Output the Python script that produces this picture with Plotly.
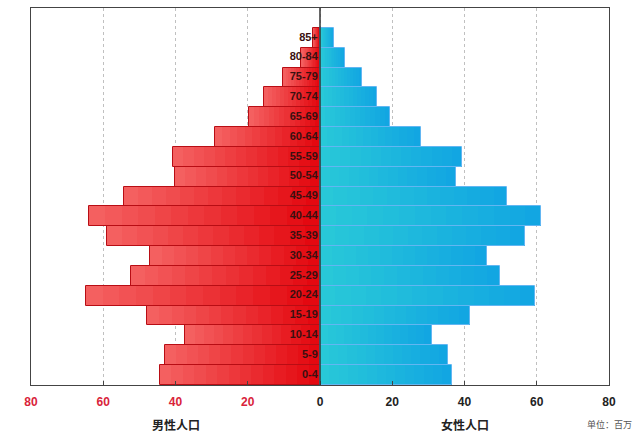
import plotly.graph_objects as go

age_groups = ["0-4", "5-9", "10-14", "15-19", "20-24", "25-29", "30-34", "35-39",
              "40-44", "45-49", "50-54", "55-59", "60-64", "65-69", "70-74",
              "75-79", "80-84", "85+"]
male = [44.3, 42.9, 37.4, 47.9, 64.8, 52.3, 47.1, 59.0, 64.0, 54.3, 40.1, 40.7,
        29.1, 19.7, 15.5, 10.2, 5.2, 2.0]
female = [36.5, 35.4, 31.0, 41.5, 59.5, 49.8, 46.2, 56.7, 61.2, 51.8, 37.6, 39.3,
          28.0, 19.4, 15.8, 11.6, 6.9, 3.9]
tick_vals = [-80, -60, -40, -20, 0, 20, 40, 60, 80]
tick_labels = ["80", "60", "40", "20", "0", "20", "40", "60", "80"]
tick_text = ['<b><span style="color:#d9233a">%s</span></b>' % t if v < 0 else "<b>%s</b>" % t
             for v, t in zip(tick_vals, tick_labels)]

def lerp(c1, c2, t):
    return "rgb(%d,%d,%d)" % tuple(round(a + (b - a) * t) for a, b in zip(c1, c2))

fig = go.Figure()
steps = 14
red_light, red_dark = (244, 96, 96), (228, 8, 16)
blue_end, blue_center = (18, 166, 226), (40, 200, 216)
for i in range(steps):
    f = 1 - i / steps
    t = i / (steps - 1)
    fig.add_trace(go.Bar(y=age_groups, x=[-v * f for v in male], orientation="h",
                         marker=dict(color=lerp(red_light, red_dark, t), line=dict(width=0)),
                         showlegend=False, hoverinfo="skip"))
    fig.add_trace(go.Bar(y=age_groups, x=[v * f for v in female], orientation="h",
                         marker=dict(color=lerp(blue_end, blue_center, t), line=dict(width=0)),
                         showlegend=False, hoverinfo="skip"))
# outlines
fig.add_trace(go.Bar(y=age_groups, x=[-v for v in male], orientation="h",
                     marker=dict(color="rgba(0,0,0,0)", line=dict(color="#b80d14", width=1)),
                     showlegend=False, hoverinfo="skip"))
fig.add_trace(go.Bar(y=age_groups, x=female, orientation="h",
                     marker=dict(color="rgba(0,0,0,0)", line=dict(color="#62b6f2", width=1)),
                     showlegend=False, hoverinfo="skip"))
# age labels
fig.add_trace(go.Scatter(y=age_groups, x=[0] * len(age_groups), mode="text",
                         text=["<b>%s</b>\u2009" % a for a in age_groups],
                         textposition="middle left",
                         textfont=dict(family="Arial, Liberation Sans", size=11, color="#3a1010"),
                         showlegend=False, hoverinfo="skip"))

fig.add_shape(type="line", xref="x", yref="paper", x0=0, x1=0, y0=0, y1=1,
              line=dict(color="#333333", width=1.5), layer="above")

fig.update_layout(
    width=641, height=436, barmode="overlay", bargap=0,
    margin=dict(l=31, r=32, t=8, b=51),
    paper_bgcolor="white", plot_bgcolor="white",
    font=dict(family="Arial, Liberation Sans", size=12, color="#222"),
    xaxis=dict(range=[-80, 80], tickvals=tick_vals, ticktext=tick_text,
               tickfont=dict(size=12, color="#222", family="Arial, Liberation Sans"),
               ticklabelstandoff=6,
               showgrid=True, gridcolor="#c0c0c0", griddash="dot", gridwidth=1,
               zeroline=False, showline=True, linecolor="#444", linewidth=1, mirror=True,
               ticks="inside", ticklen=4, tickcolor="#444"),
    yaxis=dict(type="category", categoryarray=age_groups, range=[-0.5, 18.5],
               showticklabels=False, showgrid=False, zeroline=False,
               showline=True, linecolor="#444", linewidth=1, mirror=True, ticks=""),
    annotations=[
        dict(x=-40, y=-0.105, xref="x", yref="paper", text="<b>男性人口</b>", showarrow=False,
             font=dict(size=12, color="#222", family="Noto Sans CJK SC"), yanchor="middle"),
        dict(x=40, y=-0.105, xref="x", yref="paper", text="<b>女性人口</b>", showarrow=False,
             font=dict(size=12, color="#222", family="Noto Sans CJK SC"), yanchor="middle"),
        dict(x=80, y=-0.105, xref="x", yref="paper", text="单位：百万", showarrow=False,
             font=dict(size=9, color="#555", family="Noto Sans CJK SC"), yanchor="middle", xanchor="center"),
    ],
)

fig.write_html("out.html")
